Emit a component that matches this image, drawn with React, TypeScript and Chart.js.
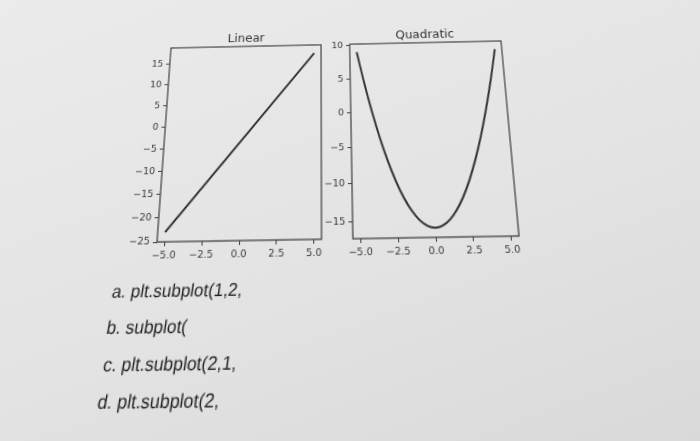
import React, { useEffect, useRef } from "react";
import { Chart, registerables } from "chart.js";

Chart.register(...registerables);

// Shared x axis for both panels
const xTicks = [-5, -2.5, 0, 2.5, 5];
const xTickLabels = ["−5.0", "−2.5", "0.0", "2.5", "5.0"];

// Linear panel
const linearX = [-5, 5];
const linearY = [-23, 17];
const linearYTicks = [-25, -20, -15, -10, -5, 0, 5, 10, 15];
const linearYTickLabels = ["−25", "−20", "−15", "−10", "−5", "0", "5", "10", "15"];

// Quadratic panel
const quadX = [-5, -4.5, -4, -3.5, -3, -2.5, -2, -1.5, -1, -0.5, 0, 0.5, 1, 1.5, 2, 2.5, 3, 3.5, 4, 4.5, 5];
const quadY = [9, 4.25, 0, -3.75, -7, -9.75, -12, -13.75, -15, -15.75, -16, -15.75, -15, -13.75, -12, -9.75, -7, -3.75, 0, 4.25, 9];
const quadYTicks = [-15, -10, -5, 0, 5, 10];
const quadYTickLabels = ["−15", "−10", "−5", "0", "5", "10"];

// Answer choices printed under the figure
const answers = ["a. plt.subplot(1,2,", "b. subplot(", "c. plt.subplot(2,1,", "d. plt.subplot(2,"];
// where each line starts (left edge, vertical centre) on the tilted page
const answerAnchors = [
  [112, 292],
  [107, 328],
  [103, 365],
  [98, 402],
];

// The page is seen at a slight tilt: the flat layout's outer plot corners
// are carried onto the corners of the tilted sheet.
const flatCorners = [
  [164, 46],
  [164, 240],
  [510, 46],
  [510, 240],
];
const tiltedCorners = [
  [171, 48],
  [157, 242],
  [501, 41],
  [519, 236],
];

function solveHomography(src: number[][], dst: number[][]): number[] {
  const A: number[][] = [];
  const b: number[] = [];
  for (let i = 0; i < 4; i++) {
    const [x, y] = src[i];
    const [u, v] = dst[i];
    A.push([x, y, 1, 0, 0, 0, -x * u, -y * u]);
    b.push(u);
    A.push([0, 0, 0, x, y, 1, -x * v, -y * v]);
    b.push(v);
  }
  const n = 8;
  for (let c = 0; c < n; c++) {
    let p = c;
    for (let r = c + 1; r < n; r++) if (Math.abs(A[r][c]) > Math.abs(A[p][c])) p = r;
    [A[c], A[p]] = [A[p], A[c]];
    [b[c], b[p]] = [b[p], b[c]];
    for (let r = 0; r < n; r++) {
      if (r === c) continue;
      const f = A[r][c] / A[c][c];
      for (let k = c; k < n; k++) A[r][k] -= f * A[c][k];
      b[r] -= f * b[c];
    }
  }
  return b.map((val, i) => val / A[i][i]);
}

const H = solveHomography(flatCorners, tiltedCorners);

function invert3(m: number[]): number[] {
  const [a, b, c, d, e, f, g, h, i] = m;
  const A = e * i - f * h;
  const B = -(d * i - f * g);
  const C = d * h - e * g;
  const det = a * A + b * B + c * C;
  return [
    A / det, -(b * i - c * h) / det, (b * f - c * e) / det,
    B / det, (a * i - c * g) / det, -(a * f - c * d) / det,
    C / det, -(a * h - b * g) / det, (a * e - b * d) / det,
  ];
}

const Hinv = invert3([H[0], H[1], H[2], H[3], H[4], H[5], H[6], H[7], 1]);

function toFlat(u: number, v: number): [number, number] {
  const X = Hinv[0] * u + Hinv[1] * v + Hinv[2];
  const Y = Hinv[3] * u + Hinv[4] * v + Hinv[5];
  const W = Hinv[6] * u + Hinv[7] * v + Hinv[8];
  return [X / W, Y / W];
}

const tiltTransform = `matrix3d(${H[0]}, ${H[3]}, 0, ${H[6]}, ${H[1]}, ${H[4]}, 0, ${H[7]}, 0, 0, 1, 0, ${H[2]}, ${H[5]}, 0, 1)`;

const INK = "#333333";
const TICK_FONT = { family: "DejaVu Sans", size: 9.5 };

const framePlugin = {
  id: "frame",
  afterDraw(chart: any) {
    const { ctx, chartArea: a } = chart;
    ctx.save();
    ctx.strokeStyle = "#3d3d3d";
    ctx.lineWidth = 1.2;
    ctx.strokeRect(a.left, a.top, a.right - a.left, a.bottom - a.top);
    ctx.restore();
  },
};

type PanelProps = {
  title: string;
  xs: number[];
  ys: number[];
  yMin: number;
  yMax: number;
  yTicks: number[];
  yLabels: string[];
  left: number;
  top: number;
  width: number;
  height: number;
  yAxisWidth: number;
  padRight: number;
  xAxisHeight: number;
  smooth: boolean;
};

function Panel(p: PanelProps) {
  const ref = useRef<HTMLCanvasElement | null>(null);

  useEffect(() => {
    if (!ref.current) return;
    const chart = new Chart(ref.current, {
      type: "line",
      data: {
        datasets: [
          {
            data: p.xs.map((x, i) => ({ x, y: p.ys[i] })),
            borderColor: "#333333",
            borderWidth: 2,
            pointRadius: 0,
            fill: false,
            cubicInterpolationMode: p.smooth ? "monotone" : "default",
          },
        ],
      },
      options: {
        responsive: false,
        animation: false,
        layout: { padding: { left: 0, right: p.padRight, top: 0, bottom: 0 } },
        plugins: {
          legend: { display: false },
          tooltip: { enabled: false },
          title: {
            display: true,
            text: p.title,
            fullSize: false,
            color: INK,
            font: { family: "DejaVu Sans", size: 12.5, weight: "normal" },
            padding: { top: 15, bottom: 1 },
          },
        },
        scales: {
          x: {
            type: "linear",
            min: -5.5,
            max: 5.5,
            afterBuildTicks: (s: any) => {
              s.ticks = xTicks.map((v) => ({ value: v }));
            },
            afterFit: (s: any) => {
              s.height = p.xAxisHeight;
            },
            ticks: {
              autoSkip: false,
              maxRotation: 0,
              padding: 3,
              color: "#3c3c3c",
              font: TICK_FONT,
              callback: (v: any) => xTickLabels[xTicks.indexOf(Number(v))],
            },
            grid: { drawOnChartArea: false, drawTicks: true, tickLength: 4, color: "#444" },
            border: { display: false },
          },
          y: {
            type: "linear",
            min: p.yMin,
            max: p.yMax,
            afterBuildTicks: (s: any) => {
              s.ticks = p.yTicks.map((v) => ({ value: v }));
            },
            afterFit: (s: any) => {
              s.width = p.yAxisWidth;
            },
            ticks: {
              autoSkip: false,
              padding: 3,
              color: "#3c3c3c",
              font: TICK_FONT,
              callback: (v: any) => p.yLabels[p.yTicks.indexOf(Number(v))],
            },
            grid: { drawOnChartArea: false, drawTicks: true, tickLength: 4, color: "#444" },
            border: { display: false },
          },
        },
      },
      plugins: [framePlugin],
    } as any);
    return () => chart.destroy();
  }, []);

  return (
    <canvas
      ref={ref}
      width={p.width}
      height={p.height}
      style={{ position: "absolute", left: p.left, top: p.top, width: p.width, height: p.height }}
    />
  );
}

export default function App() {
  return (
    <div
      style={{
        position: "fixed",
        left: 0,
        top: 0,
        width: 700,
        height: 441,
        overflow: "hidden",
        background: "linear-gradient(160deg, #ebebeb 0%, #e3e3e3 55%, #d9d9d9 100%)",
      }}
    >
      <div
        style={{
          position: "absolute",
          left: 0,
          top: 0,
          width: 700,
          height: 441,
          transformOrigin: "0 0",
          transform: tiltTransform,
        }}
      >
        <Panel
          title="Linear"
          xs={linearX}
          ys={linearY}
          yMin={-25}
          yMax={19}
          yTicks={linearYTicks}
          yLabels={linearYTickLabels}
          left={100}
          top={15}
          width={235}
          height={250}
          yAxisWidth={64}
          padRight={13}
          xAxisHeight={25}
          smooth={false}
        />
        <Panel
          title="Quadratic"
          xs={quadX}
          ys={quadY}
          yMin={-17.25}
          yMax={10.25}
          yTicks={quadYTicks}
          yLabels={quadYTickLabels}
          left={300}
          top={15}
          width={235}
          height={250}
          yAxisWidth={52}
          padRight={25}
          xAxisHeight={25}
          smooth={true}
        />
        {answers.map((t, i) => {
          const [fx, fy] = toFlat(answerAnchors[i][0], answerAnchors[i][1]);
          return (
            <div
              key={t}
              style={{
                position: "absolute",
                left: fx,
                top: fy - 10,
                fontFamily: "'Liberation Sans', Arial, sans-serif",
                fontSize: 16,
                lineHeight: "20px",
                color: "#1f1f1f",
                whiteSpace: "nowrap",
                transformOrigin: "0 50%",
                transform: "skewX(-6deg)",
              }}
            >
              {t}
            </div>
          );
        })}
      </div>
    </div>
  );
}
